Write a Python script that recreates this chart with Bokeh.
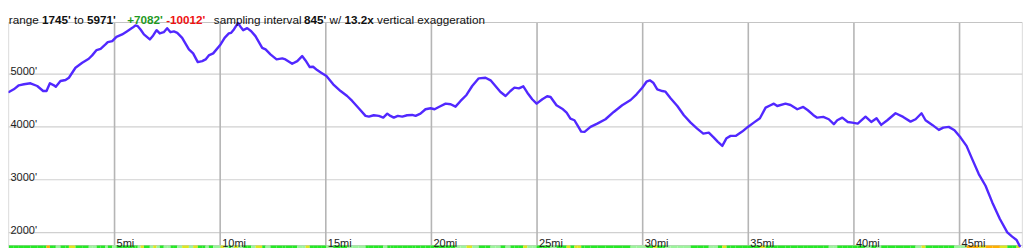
from bokeh.plotting import figure
from bokeh.models import ColumnDataSource, Range1d
from bokeh.core.properties import value
from bokeh.embed import file_html
from bokeh.resources import INLINE

# ---------------- data ----------------
distance_mi = [
    0.00, 0.23, 0.47, 0.71, 1.02, 1.34, 1.62, 1.78, 1.94, 2.13, 2.22, 2.44, 2.68, 2.84, 3.15,
    3.47, 3.78, 3.94, 4.15, 4.34, 4.57, 4.68, 4.89, 5.09, 5.36, 5.60, 5.84, 5.99, 6.10, 6.23,
    6.39, 6.67, 6.83, 6.99, 7.14, 7.33, 7.49, 7.65, 7.81, 7.97, 8.20, 8.52, 8.72, 8.94, 9.15,
    9.31, 9.46, 9.67, 10.02, 10.21, 10.41, 10.52, 10.65, 10.84, 11.00, 11.09, 11.28, 11.47,
    11.67, 11.99, 12.15, 12.38, 12.67, 12.94, 13.09, 13.41, 13.65, 13.88, 14.04, 14.24, 14.40,
    14.59, 14.78, 15.03, 15.35, 15.70, 16.01, 16.25, 16.56, 16.88, 17.04, 17.27, 17.51, 17.72,
    17.91, 18.06, 18.22, 18.41, 18.62, 18.85, 19.09, 19.25, 19.48, 19.72, 19.96, 20.15, 20.35,
    20.67, 20.91, 21.14, 21.38, 21.66, 21.93, 22.24, 22.56, 22.80, 23.03, 23.27, 23.51, 23.74,
    23.93, 24.14, 24.35, 24.54, 24.77, 24.98, 25.25, 25.48, 25.64, 25.92, 26.19, 26.40, 26.58,
    26.77, 26.93, 27.09, 27.25, 27.53, 27.85, 28.24, 28.63, 29.03, 29.43, 29.71, 29.98, 30.18,
    30.34, 30.50, 30.69, 30.93, 31.08, 31.32, 31.64, 31.95, 32.27, 32.58, 32.87, 33.13, 33.37,
    33.56, 33.77, 33.97, 34.16, 34.40, 34.71, 34.98, 35.26, 35.55, 35.82, 36.05,
    36.21, 36.37, 36.76, 37.00, 37.32, 37.60, 37.82, 38.07, 38.26, 38.55, 38.81, 39.05, 39.21,
    39.45, 39.71, 39.92, 40.18, 40.55, 40.82, 41.07, 41.29, 41.58, 41.97, 42.33, 42.68, 42.92,
    43.20, 43.39, 43.71, 44.02, 44.23, 44.49, 44.76, 45.05, 45.33, 45.60, 45.91, 46.23, 46.55,
    46.91, 47.26, 47.49, 47.70, 47.85,
]
elevation_ft = [
    4660, 4711, 4787, 4806, 4825, 4774, 4679, 4679, 4825, 4787, 4760, 4868, 4887, 4930, 5119,
    5213, 5289, 5353, 5453, 5477, 5560, 5604, 5623, 5704, 5749, 5811, 5874, 5919, 5906, 5843,
    5749, 5655, 5730, 5830, 5768, 5792, 5868, 5792, 5806, 5779, 5685, 5466, 5391, 5226, 5245,
    5277, 5353, 5391, 5560, 5685, 5768, 5779, 5843, 5965, 5874, 5830, 5868, 5811,
    5717, 5496, 5466, 5372, 5277, 5296, 5277, 5194, 5245, 5340, 5258, 5132, 5138,
    5075, 5025, 4962, 4806, 4679, 4585, 4491, 4353, 4208, 4194, 4221, 4208, 4175,
    4251, 4208, 4175, 4208, 4194, 4221, 4226, 4208, 4251, 4334, 4353, 4334, 4377,
    4440, 4428, 4383, 4491, 4604, 4774, 4919, 4930, 4881, 4774, 4660, 4585, 4679,
    4742, 4730, 4768, 4647, 4523, 4440, 4523, 4579, 4566, 4409, 4345, 4270, 4157,
    4126, 4019, 3911, 3906, 4000, 4062, 4145, 4283, 4409, 4509, 4617, 4742, 4855,
    4881, 4836, 4711, 4679, 4666, 4542, 4396, 4221, 4081, 3968, 3874, 3892, 3798,
    3717, 3641, 3787, 3830, 3830, 3911, 4000, 4081, 4164, 4364, 4409,
    4440, 4396, 4440, 4415, 4334, 4377, 4315, 4226, 4175, 4189, 4145, 4051, 4126,
    4175, 4094, 4081, 4062, 4194, 4094, 4164, 4038, 4126, 4258, 4189, 4100, 4145,
    4258, 4126, 4038, 3943, 3987, 4000, 3938, 3798, 3641, 3391, 3108, 2887, 2572,
    2258, 2006, 1924, 1862, 1745,
]
x_ticks = [5, 10, 15, 20, 25, 30, 35, 40, 45]
x_tick_labels = ["5mi", "10mi", "15mi", "20mi", "25mi", "30mi", "35mi", "40mi", "45mi"]
y_ticks = [2000, 3000, 4000, 5000]
y_tick_labels = ["2000'", "3000'", "4000'", "5000'"]

range_min, range_max = "1745'", "5971'"
gain, loss = "+7082'", "-10012'"
interval, exaggeration = "845'", "13.2x"

# ---------------- figure ----------------
W, H = 1024, 248
TOP = 22                      # header band height in px
X0, X1 = -0.02, 47.98
Y0, Y1 = 1700, 5975           # chart box (below the header band)
ft_per_px = (Y1 - Y0) / (H - TOP)
YTOP = Y1 + TOP * ft_per_px   # frame extends up through the header band
FONT = "Liberation Sans"
GRID_V = "#b5b5b5"
GRID_H = "#d0d0d0"
BORDER = "#c4c4c4"

p = figure(width=W, height=H, output_backend="svg", toolbar_location=None,
           x_axis_type=None, y_axis_type=None,
           x_range=Range1d(X0, X1), y_range=Range1d(Y0, YTOP),
           min_border_left=8, min_border_right=2, min_border_top=0, min_border_bottom=0,
           background_fill_color="white", border_fill_color="white",
           outline_line_color=None)

# horizontal grid lines (elevation ticks)
p.segment(x0=X0, x1=X1, y0="y", y1="y", source=ColumnDataSource(dict(y=y_ticks)),
          line_color=GRID_H, line_width=1.2)
# vertical grid lines (distance ticks), only within chart box
p.segment(x0="x", x1="x", y0=Y0, y1=Y1, source=ColumnDataSource(dict(x=x_ticks)),
          line_color=GRID_V, line_width=1.6)

# chart box border
strip_top = Y0 + 3 * ft_per_px
p.segment(x0=[X0, X0, X1, X0], x1=[X1, X1, X1, X0],
          y0=[Y1, strip_top, Y0, Y0], y1=[Y1, strip_top, Y1, Y1],
          line_color=BORDER, line_width=1.2)

# grade strip derived from profile
def grade_color(g):
    if g < 0.07:
        return "#25ea25"
    if g < 0.11:
        return "#9cf59c"
    if g < 0.16:
        return "#dde820"
    if g < 0.22:
        return "#ffb000"
    return "#ff6a00"

lefts, rights, colors = [], [], []
for i in range(min(len(distance_mi), len(elevation_ft)) - 1):
    dx = distance_mi[i + 1] - distance_mi[i]
    dy = elevation_ft[i + 1] - elevation_ft[i]
    g = abs(dy) / (dx * 5280.0) if dx > 0 else 0
    lefts.append(distance_mi[i])
    rights.append(distance_mi[i + 1])
    colors.append(grade_color(g))
strip = ColumnDataSource(dict(left=lefts, right=rights, color=colors))
p.quad(left="left", right="right", bottom=Y0, top=strip_top, color="color",
       line_color=None, source=strip)

# tick labels
xs = ColumnDataSource(dict(x=x_ticks, y=[Y0] * len(x_ticks), t=x_tick_labels))
p.text(x="x", y="y", text="t", source=xs, x_offset=2, y_offset=-5.5,
       text_font=value(FONT), text_font_size="11px", text_color="#222222",
       text_baseline="alphabetic", text_align="left")
ys = ColumnDataSource(dict(x=[X0] * len(y_ticks), y=y_ticks, t=y_tick_labels))
p.text(x="x", y="y", text="t", source=ys, x_offset=2, y_offset=-3,
       text_font=value(FONT), text_font_size="11px", text_color="#222222",
       text_baseline="alphabetic", text_align="left")

# profile line
src = ColumnDataSource(dict(x=distance_mi, y=elevation_ft))
p.line(x="x", y="y", source=src, line_color="#5128ff", line_width=2.4,
       line_join="round", line_cap="round")

# header (runs of mixed weight/colour, placed at their pixel starts)
header = [
    ("range", 8.3, "normal", "#111111"),
    (range_min, 41.6, "bold", "#111111"),
    ("to", 73.5, "normal", "#111111"),
    (range_max, 86.6, "bold", "#111111"),
    (gain, 126.7, "bold", "#1f9a1f"),
    (loss, 165.7, "bold", "#ee1111"),
    ("sampling interval", 213.3, "normal", "#111111"),
    (interval, 303.5, "bold", "#111111"),
    ("w/", 329.0, "normal", "#111111"),
    (exaggeration, 344.0, "bold", "#111111"),
    ("vertical exaggeration", 376.6, "normal", "#111111"),
]
for style in ("normal", "bold"):
    items = [h for h in header if h[2] == style]
    hs = ColumnDataSource(dict(
        x=[X0] * len(items), y=[Y1] * len(items),
        t=[h[0] for h in items],
        off=[h[1] - 8 for h in items],
        c=[h[3] for h in items],
    ))
    p.text(x="x", y="y", text="t", source=hs, x_offset="off", y_offset=-3,
           text_font=value(FONT), text_font_size="11.7px", text_font_style=style,
           text_color="c", text_baseline="alphabetic", text_align="left")

open("out.html", "w").write(file_html(p, INLINE))
